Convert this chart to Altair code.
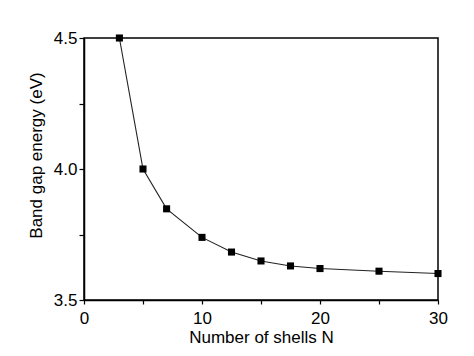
import altair as alt
import pandas as pd

shells = [3, 5, 7, 10, 12.5, 15, 17.5, 20, 25, 30]
gap = [4.50, 4.00, 3.848, 3.739, 3.683, 3.649, 3.630, 3.620, 3.610, 3.601]
x_ticks = [0, 5, 10, 15, 20, 25, 30]
y_ticks = [3.5, 3.75, 4.0, 4.25, 4.5]

df = pd.DataFrame({"N": shells, "E": gap})

FONT = "Liberation Sans"

x = alt.X("N:Q", scale=alt.Scale(domain=[0, 30], nice=False, zero=False),
          axis=alt.Axis(values=x_ticks, title="Number of shells N",
                        labelExpr="datum.value % 10 == 0 ? datum.label : ''",
                        labelFlush=False,
                        tickSize=4, labelPadding=6, titlePadding=3,
                        labelFontSize=17, titleFontSize=17))
y = alt.Y("E:Q", scale=alt.Scale(domain=[3.5, 4.5], nice=False, zero=False),
          axis=alt.Axis(values=y_ticks, title="Band gap energy (eV)", format=".1f",
                        labelExpr="(round(datum.value*100) % 50 == 0) ? datum.label : ''",
                        labelFlush=False,
                        tickSize=5, labelPadding=2,
                        titleX=-39, titleY=117, titleAngle=-90,
                        labelFontSize=17, titleFontSize=17))

base = alt.Chart(df)
line = base.mark_line(color="#222222", strokeWidth=1.1).encode(x=x, y=y)
pts = base.mark_square(color="black", size=50, opacity=1).encode(x=x, y=y)

chart = (line + pts).properties(
    width=354, height=262,
    autosize=alt.AutoSizeParams(type="none"),
    padding={"left": 84, "top": 38, "right": 36, "bottom": 56},
    background="white",
).configure_view(stroke="black", strokeWidth=1.5).configure_axis(
    domainColor="black", domainWidth=1.5, tickColor="black", tickWidth=1.2,
    labelColor="black", titleColor="black", labelFont=FONT, titleFont=FONT,
    titleFontWeight="normal", grid=False,
)

chart.save("out.html", embed_options={"renderer": "svg", "actions": False})
